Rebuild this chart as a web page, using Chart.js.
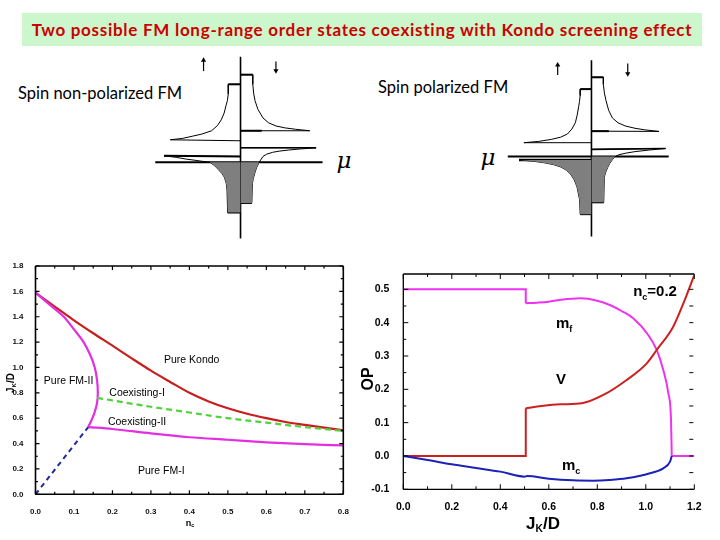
<!DOCTYPE html>
<html>
<head>
<meta charset="utf-8">
<script src="https://cdn.jsdelivr.net/npm/chart.js@4.4.1/dist/chart.umd.min.js"></script>
<style>
  body { margin: 0; width: 720px; height: 540px; position: relative; background: #fff; overflow: hidden; font-family: Lato, "Liberation Sans", sans-serif; }
  .abs { position: absolute; white-space: nowrap; }
  .c { transform: translate(-50%, -50%); }
  .r { transform: translate(-50%, -50%) rotate(-90deg); }
  #banner { left: 22px; top: 13px; width: 680px; height: 33px; line-height: 33px; background: #ccf7cc; color: #cc0000; font-weight: bold; font-size: 17px; letter-spacing: 0.72px; text-align: center; }
  .spin { font-size: 16.5px; color: #000; }
  .mu { font-family: "DejaVu Serif", serif; font-style: italic; font-size: 23px; }
  .ax { font-family: "Liberation Sans", Arial, sans-serif; font-weight: bold; color: #000; }
  sub { font-size: 60%; vertical-align: -0.25em; }
  .box { position: absolute; }
</style>
</head>
<body>
<div id="banner" class="abs">Two possible FM long-range order states coexisting with Kondo screening effect</div>
<div class="abs spin" style="left:18px; top:83px;">Spin non-polarized FM</div>
<div class="abs spin" style="left:378px; top:77px;">Spin polarized FM</div>

<div class="abs mu c" style="left:344px; top:160px;">μ</div>
<div class="abs mu c" style="left:488px; top:157px;">μ</div>

<div class="box" style="left:140px; top:45px; width:230px; height:210px;"><canvas id="dosL" width="230" height="210"></canvas></div>
<div class="box" style="left:470px; top:45px; width:230px; height:210px;"><canvas id="dosR" width="230" height="210"></canvas></div>
<div class="box" style="left:0px; top:250px; width:360px; height:290px;"><canvas id="phase" width="360" height="290"></canvas></div>
<div class="box" style="left:360px; top:250px; width:360px; height:290px;"><canvas id="op" width="360" height="290"></canvas></div>

<div class="abs ax r" style="left:11px; top:383px; font-size:10px;">J<sub>K</sub>/D</div>
<div class="abs ax c" style="left:190px; top:523px; font-size:9px;">n<sub>c</sub></div>
<div class="abs ax r" style="left:368px; top:379px; font-size:16px;">OP</div>
<div class="abs ax c" style="left:543px; top:524px; font-size:17px;">J<sub>K</sub>/D</div>

<script>
// ---- density-of-states sketches (u = DOS, v = energy, 1 unit = 1 px) ----
const dosL_axis = [[0, 109.7], [0, -79.3]];
const dosL_mu = [[-88.3, 0], [85, 0]];
const dosL_upArrow = [[-38.3, 94.7], [-38.3, 106]];
const dosL_dnArrow = [[36.7, 104.7], [36.7, 95]];
const dosL_upUpper = [[0, 81], [-12.7, 81], [-12.7, 71], [-13.6, 64], [-15, 59], [-17, 51], [-20, 44], [-24, 38], [-30, 32.7], [-40, 29.3], [-50, 27], [-60, 24.8], [-72.7, 23.3], [0, 22.3]];
const dosL_dnUpper = [[0, 91], [12.7, 91], [12.7, 81], [13.7, 71], [15, 64], [18, 55], [23.3, 46], [29, 41], [36.7, 37.7], [46, 35.7], [56.7, 34.3], [71.7, 32.7], [0, 32.7]];
const dosL_dnLower = [[0, 15], [78.3, 15], [62, 13.8], [50, 12.7], [40, 11.5], [33.3, 10.3], [27, 8.3], [23.3, 6], [19.3, 0], [16.5, -6], [15, -10.7], [13.2, -17], [12.3, -22.3], [11.7, -42.3], [0, -42.3]];
const dosL_upLower = [[0, 6], [-79.3, 6.7], [-66, 5], [-56.7, 3.3], [-47, 2], [-40, 1], [-31.7, 0], [-27, -3.5], [-23.3, -7.3], [-19.5, -11.5], [-16.7, -15.7], [-14.8, -22], [-14, -29], [-13.3, -52.3], [0, -52.3]];

const dosR_axis = [[0, 100], [0, -83.3]];
const dosR_mu = [[-86.7, 0], [80, 0]];
const dosR_upArrow = [[-35, 84.7], [-35, 95]];
const dosR_dnArrow = [[37.6, 96.7], [37.6, 86]];
const dosR_upUpper = [[0, 70], [-11.7, 70], [-11.7, 63.3], [-12.4, 57], [-13.3, 51.7], [-14.8, 43], [-16.7, 35], [-20.3, 28.5], [-25, 23.3], [-32, 20], [-41.7, 17.7], [-55, 15.6], [-70, 14.3], [0, 14.3]];
const dosR_dnUpper = [[0, 82.3], [12.3, 82.3], [12.3, 75], [13.4, 66], [15, 58.3], [17.8, 48], [21.7, 40], [27.5, 35], [35, 31.7], [45, 29.3], [55, 27.7], [70, 26], [0, 26.3]];
const dosR_dnLower = [[0, 7.3], [76.7, 8.3], [60, 6.7], [45, 5], [35, 3.3], [28.3, 1.7], [25, 0], [21.7, -3.3], [18.8, -7.5], [16.7, -11.7], [14.5, -17], [13.3, -21.7], [12.7, -47.7], [0, -47.7]];
const dosR_upLower = [[0, -3.7], [-75, -3.7], [-60, -5], [-48.3, -6.7], [-39, -8.6], [-31.7, -11], [-26, -14.3], [-21.7, -18.3], [-17.8, -24.5], [-15, -31.7], [-12.3, -45], [-11.7, -60], [0, -60]];

// ---- phase diagram J_K/D vs n_c ----
const kondoN = [0, 0.05, 0.1, 0.15, 0.2, 0.25, 0.3, 0.35, 0.4, 0.45, 0.5, 0.55, 0.6, 0.65, 0.7, 0.75, 0.8];
const kondoJ = [1.59, 1.48, 1.372, 1.27, 1.172, 1.072, 0.975, 0.886, 0.80, 0.732, 0.678, 0.635, 0.60, 0.57, 0.547, 0.525, 0.505];
const fm2N = [0, 0.035, 0.0735, 0.1, 0.125, 0.142, 0.154, 0.16, 0.162, 0.16, 0.153, 0.145, 0.137];
const fm2J = [1.59, 1.50, 1.40, 1.30, 1.20, 1.10, 1.00, 0.90, 0.80, 0.72, 0.64, 0.58, 0.53];
const fm1N = [0.137, 0.2, 0.3, 0.4, 0.5, 0.6, 0.7, 0.8];
const fm1J = [0.53, 0.515, 0.48, 0.45, 0.43, 0.41, 0.395, 0.385];
const coexN = [0.16, 0.2, 0.3, 0.4, 0.5, 0.6, 0.7, 0.8];
const coexJ = [0.76, 0.74, 0.69, 0.645, 0.60, 0.565, 0.53, 0.50];
const ferN = [0, 0.137];
const ferJ = [0, 0.53];
const phaseXTicks = [0, 0.1, 0.2, 0.3, 0.4, 0.5, 0.6, 0.7, 0.8];
const phaseYTicks = [0, 0.2, 0.4, 0.6, 0.8, 1.0, 1.2, 1.4, 1.6, 1.8];
const phaseNotes = ['Pure Kondo', 'Pure FM-II', 'Coexisting-I', 'Coexisting-II', 'Pure FM-I'];
const phaseNoteN = [0.406, 0.086, 0.264, 0.264, 0.327];
const phaseNoteJ = [1.06, 0.893, 0.80, 0.568, 0.184];

// ---- order parameters at n_c = 0.2 (split at the jumps) ----
const mfStepJK = [0, 0.505, 0.505];
const mfStepOP = [0.5, 0.5, 0.458];
const mfJK = [0.505, 0.55, 0.6, 0.645, 0.73, 0.8, 0.852, 0.9, 0.948, 1.01, 1.045, 1.072, 1.093, 1.104, 1.107];
const mfOP = [0.458, 0.46, 0.463, 0.468, 0.473, 0.466, 0.453, 0.435, 0.413, 0.363, 0.318, 0.258, 0.188, 0.108, 0];
const mfTailJK = [1.107, 1.2];
const mfTailOP = [0, 0];
const vStepJK = [0, 0.505, 0.505];
const vStepOP = [0, 0, 0.143];
const vJK = [0.505, 0.57, 0.65, 0.736, 0.825, 0.921, 1.004, 1.045, 1.113, 1.155, 1.2];
const vOP = [0.143, 0.15, 0.155, 0.158, 0.183, 0.228, 0.278, 0.318, 0.388, 0.458, 0.543];
const mcJK = [0, 0.1, 0.2, 0.3, 0.4, 0.5, 0.51, 0.6, 0.7, 0.784, 0.85, 0.921, 1.017, 1.072, 1.1, 1.107];
const mcOP = [0, -0.012, -0.025, -0.036, -0.047, -0.062, -0.06, -0.068, -0.073, -0.074, -0.072, -0.067, -0.052, -0.037, -0.017, 0];
const opXTicks = [0, 0.2, 0.4, 0.6, 0.8, 1.0, 1.2];
const opYTicks = [-0.1, 0, 0.1, 0.2, 0.3, 0.4, 0.5];
const opNotes = ['n_c=0.2', 'm_f', 'V', 'm_c'];
const opNoteX = [1.038, 0.663, 0.65, 0.692];
const opNoteY = [0.492, 0.396, 0.228, -0.03];

const pairs = arr => arr.map(p => ({ x: p[0], y: p[1] }));
const zip = (xs, ys) => xs.map((x, i) => ({ x: x, y: ys[i] }));

// draws "a_b" with b as subscript, centred on (x, y)
function subText(ctx, str, x, y, size, weight) {
  const parts = [];
  for (let i = 0; i < str.length; i++) {
    if (str[i] === '_') { parts.push({ t: str[i + 1], sub: true }); i++; }
    else parts.push({ t: str[i], sub: false });
  }
  const font = s => weight + ' ' + s + 'px "Liberation Sans", Arial, sans-serif';
  let w = 0;
  parts.forEach(p => { ctx.font = font(p.sub ? size * 0.6 : size); p.w = ctx.measureText(p.t).width; w += p.w; });
  let cx = x - w / 2;
  ctx.textBaseline = 'middle';
  ctx.textAlign = 'left';
  parts.forEach(p => {
    ctx.font = font(p.sub ? size * 0.6 : size);
    ctx.fillText(p.t, cx, p.sub ? y + size * 0.38 : y);
    cx += p.w;
  });
}

const notesPlugin = {
  id: 'notes',
  afterDatasetsDraw(chart, args, opts) {
    if (!opts.text) return;
    const { ctx, scales: { x, y } } = chart;
    ctx.save();
    ctx.fillStyle = '#000';
    opts.text.forEach((t, i) => subText(ctx, t, x.getPixelForValue(opts.xs[i]), y.getPixelForValue(opts.ys[i]), opts.size, opts.weight));
    ctx.restore();
  }
};

// frame and inward tick marks
const framePlugin = {
  id: 'frame',
  afterDatasetsDraw(chart, args, opts) {
    if (!opts.sides) return;
    const { ctx, chartArea: a, scales: { x, y } } = chart;
    ctx.save();
    ctx.strokeStyle = '#000';
    ctx.lineWidth = opts.width;
    ctx.beginPath();
    if (opts.sides.includes('l')) { ctx.moveTo(a.left, a.top); ctx.lineTo(a.left, a.bottom); }
    if (opts.sides.includes('b')) { ctx.moveTo(a.left, a.bottom); ctx.lineTo(a.right, a.bottom); }
    if (opts.sides.includes('t')) { ctx.moveTo(a.left, a.top); ctx.lineTo(a.right, a.top); }
    if (opts.sides.includes('r')) { ctx.moveTo(a.right, a.top); ctx.lineTo(a.right, a.bottom); }
    ctx.stroke();
    ctx.lineWidth = opts.tickWidth;
    ctx.beginPath();
    const xs = x.ticks.map(t => t.value);
    const ys = y.ticks.map(t => t.value);
    const mid = v => v.slice(1).map((t, i) => (t + v[i]) / 2);
    const xt = xs.map(v => [v, opts.major]).concat(mid(xs).map(v => [v, opts.minor]));
    const yt = ys.map(v => [v, opts.major]).concat(mid(ys).map(v => [v, opts.minor]));
    xt.forEach(([v, len]) => {
      const px = x.getPixelForValue(v);
      ctx.moveTo(px, a.bottom); ctx.lineTo(px, a.bottom - len);
      if (opts.ticks.includes('t')) { ctx.moveTo(px, a.top); ctx.lineTo(px, a.top + len); }
    });
    yt.forEach(([v, len]) => {
      const py = y.getPixelForValue(v);
      ctx.moveTo(a.left, py); ctx.lineTo(a.left + len, py);
      if (opts.ticks.includes('r')) { ctx.moveTo(a.right - opts.rOff, py); ctx.lineTo(a.right - opts.rOff - (opts.rLen || len), py); }
    });
    ctx.stroke();
    ctx.restore();
  }
};
Chart.register(notesPlugin, framePlugin);

function dosChart(id, xmin, ymax, shapes, grays, arrows) {
  const ds = [];
  grays.forEach(g => ds.push({ data: pairs(g.pts), showLine: true, borderWidth: 0, borderColor: 'rgba(0,0,0,0)', backgroundColor: '#7f7f7f', fill: { value: g.base } }));
  shapes.forEach(s => ds.push({ data: pairs(s.pts), showLine: true, borderWidth: s.w, borderColor: '#000', fill: false }));
  arrows.forEach(a => ds.push({
    data: pairs(a.pts), showLine: true, borderWidth: 1.2, borderColor: '#000', fill: false,
    pointRadius: [0, 3], pointStyle: 'triangle', pointRotation: a.rot, backgroundColor: '#000', pointBorderWidth: 0
  }));
  new Chart(document.getElementById(id), {
    type: 'scatter',
    data: { datasets: ds },
    options: {
      responsive: false, animation: false, clip: false,
      layout: { padding: 0 },
      elements: { point: { radius: 0 }, line: { tension: 0 } },
      scales: {
        x: { type: 'linear', display: false, min: xmin, max: xmin + 230 },
        y: { type: 'linear', display: false, min: ymax - 210, max: ymax }
      },
      plugins: { legend: { display: false }, tooltip: { enabled: false } }
    }
  });
}

dosChart('dosL', -100, 117.7, [
  { pts: dosL_upUpper, w: 1 }, { pts: dosL_upUpper.slice(0, 2), w: 2 },
  { pts: dosL_dnUpper, w: 1 }, { pts: dosL_dnUpper.slice(0, 2), w: 2 }, { pts: [[0, 32.7], [22, 32.7]], w: 2 },
  { pts: dosL_dnLower, w: 1 }, { pts: dosL_dnLower.slice(0, 2), w: 1.6 }, { pts: dosL_dnLower.slice(-2), w: 2 },
  { pts: dosL_upLower, w: 1 }, { pts: dosL_upLower.slice(0, 2), w: 2 }, { pts: dosL_upLower.slice(-2), w: 2 },
  { pts: dosL_axis, w: 1.6 }, { pts: dosL_mu, w: 2 }
], [
  { pts: dosL_dnLower.slice(8), base: 0 },
  { pts: dosL_upLower.slice(6), base: 0 }
], [
  { pts: dosL_upArrow, rot: 0 }, { pts: dosL_dnArrow, rot: 180 }
]);

dosChart('dosR', -121.7, 111.7, [
  { pts: dosR_upUpper, w: 1 }, { pts: dosR_upUpper.slice(0, 2), w: 2 },
  { pts: dosR_dnUpper, w: 1 }, { pts: dosR_dnUpper.slice(0, 2), w: 2 }, { pts: [[0, 26.3], [18, 26.3]], w: 2 },
  { pts: dosR_dnLower, w: 1 }, { pts: dosR_dnLower.slice(0, 2), w: 1.6 }, { pts: dosR_dnLower.slice(-2), w: 2 },
  { pts: dosR_upLower, w: 1 }, { pts: dosR_upLower.slice(0, 2), w: 2.4 }, { pts: dosR_upLower.slice(-2), w: 2 },
  { pts: dosR_axis, w: 1.6 }, { pts: dosR_mu, w: 2 }
], [
  { pts: dosR_dnLower.slice(6), base: 0 },
  { pts: dosR_upLower.slice(1), base: -3.7 }
], [
  { pts: dosR_upArrow, rot: 0 }, { pts: dosR_dnArrow, rot: 180 }
]);

const tickFont = size => ({ family: '"Liberation Sans", Arial, sans-serif', size: size, weight: 'bold' });
const line = (xs, ys, color, width, extra) => Object.assign({
  data: zip(xs, ys), borderColor: color, borderWidth: width, showLine: true, fill: false, tension: 0
}, extra || {});
const smooth = { cubicInterpolationMode: 'monotone' };

new Chart(document.getElementById('phase'), {
  type: 'scatter',
  data: {
    datasets: [
      line(ferN, ferJ, '#1f2a9c', 2, { borderDash: [5, 4] }),
      line(coexN, coexJ, '#4fd23a', 2.2, Object.assign({ borderDash: [6, 4] }, smooth)),
      line(fm1N, fm1J, '#e22fe2', 2.2, smooth),
      line(fm2N, fm2J, '#e22fe2', 2.2, { tension: 0.3 }),
      line(kondoN, kondoJ, '#c81e1e', 2.2, smooth)
    ]
  },
  options: {
    responsive: false, animation: false,
    layout: { padding: { top: 16, right: 16.7, left: 0, bottom: 0 } },
    elements: { point: { radius: 0 } },
    scales: {
      x: {
        type: 'linear', min: 0, max: 0.8,
        afterBuildTicks: s => { s.ticks = phaseXTicks.map(v => ({ value: v })); },
        afterFit: s => { s.height = 45.7; },
        grid: { display: false }, border: { display: false },
        ticks: { font: tickFont(8), color: '#111', padding: 5, maxRotation: 0, autoSkip: false, callback: v => v.toFixed(1) }
      },
      y: {
        type: 'linear', min: 0, max: 1.8,
        afterBuildTicks: s => { s.ticks = phaseYTicks.map(v => ({ value: v })); },
        afterFit: s => { s.width = 35.5; },
        grid: { display: false }, border: { display: false },
        ticks: { font: tickFont(8), color: '#111', padding: 4, autoSkip: false, callback: v => v.toFixed(1) }
      }
    },
    plugins: {
      legend: { display: false }, tooltip: { enabled: false },
      notes: { text: phaseNotes, xs: phaseNoteN, ys: phaseNoteJ, size: 10.5, weight: 'normal' },
      frame: { sides: 'lbtr', ticks: 'btlr', width: 1.6, tickWidth: 1.2, major: 4, minor: 2.5, rOff: 0 }
    }
  }
});

new Chart(document.getElementById('op'), {
  type: 'scatter',
  data: {
    datasets: [
      line(mcJK, mcOP, '#1c22b8', 2, smooth),
      line(vStepJK, vStepOP, '#cc2020', 2),
      line(vJK, vOP, '#cc2020', 2, smooth),
      line(mfStepJK, mfStepOP, '#ee33ee', 2),
      line(mfJK, mfOP, '#ee33ee', 2, smooth),
      line(mfTailJK, mfTailOP, '#ee33ee', 2)
    ]
  },
  options: {
    responsive: false, animation: false,
    layout: { padding: { top: 24, right: 25.7, left: 0, bottom: 0 } },
    elements: { point: { radius: 0 } },
    scales: {
      x: {
        type: 'linear', min: 0, max: 1.2,
        afterBuildTicks: s => { s.ticks = opXTicks.map(v => ({ value: v })); },
        afterFit: s => { s.height = 50.7; },
        grid: { display: false }, border: { display: false },
        ticks: { font: tickFont(10.5), color: '#000', padding: 4, maxRotation: 0, autoSkip: false, callback: v => v.toFixed(1) }
      },
      y: {
        type: 'linear', min: -0.1, max: 0.546,
        afterBuildTicks: s => { s.ticks = opYTicks.map(v => ({ value: v })); },
        afterFit: s => { s.width = 43.3; },
        grid: { display: false }, border: { display: false },
        ticks: { font: tickFont(10.5), color: '#000', padding: 6, autoSkip: false, callback: v => v.toFixed(1) }
      }
    },
    plugins: {
      legend: { display: false }, tooltip: { enabled: false },
      notes: { text: opNotes, xs: opNoteX, ys: opNoteY, size: 15, weight: 'bold' },
      frame: { sides: 'lbt', ticks: 'btlr', width: 1.3, tickWidth: 1, major: 5, minor: 3, rOff: 1, rLen: 4 }
    }
  }
});
</script>
</body>
</html>
